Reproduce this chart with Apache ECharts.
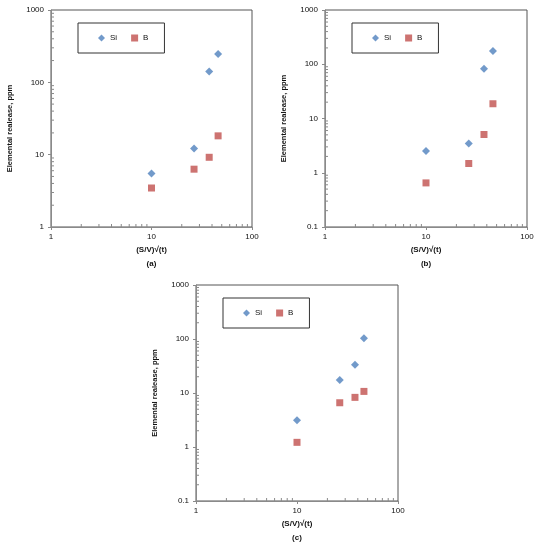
<!DOCTYPE html>
<html>
<head>
<meta charset="utf-8">
<script src="https://cdn.jsdelivr.net/npm/echarts@6/dist/echarts.min.js"></script>
<style>
  html, body { margin: 0; padding: 0; background: #fff; }
  #main { width: 541px; height: 550px; }
</style>
</head>
<body>
<div id="main"></div>
<script>
// x positions (S/V)√(t), same for every panel
var xVals = [10, 26.5, 37.5, 46];

// panel (a)
var siA = [5.5, 12.2, 141, 246];
var bA = [3.46, 6.3, 9.2, 18.2];
// panel (b)
var siB = [2.53, 3.45, 82.6, 175];
var bB = [0.65, 1.48, 5.07, 18.7];
// panel (c)
var siC = [3.12, 17.4, 33.5, 103];
var bC = [1.22, 6.6, 8.3, 10.7];

var panelLabels = ['(a)', '(b)', '(c)'];
var yMins = [1, 0.1, 0.1];
var yMax = 1000;
var xMin = 1, xMax = 100;

var FONT = '"Liberation Sans", Arial, sans-serif';
var AXIS_GREY = '#8a8a8a';
var SI_COLOR = '#4f81bd';
var B_COLOR = '#c0504d';

window.onload = function() {
	var chart = echarts.init(document.getElementById('main'));

	var grids = [
		{ left: 51, top: 10, width: 201, height: 217 },
		{ left: 325, top: 10, width: 202, height: 217 },
		{ left: 196, top: 285, width: 202, height: 216 }
	];

	function pairs(ys) {
		return xVals.map(function(x, i) { return [x, ys[i]]; });
	}

	// minor tick positions 2..9 in every decade
	function minorValues(lo, hi) {
		var out = [];
		for (var d = lo; d < hi; d *= 10) {
			for (var k = 2; k <= 9; k++) out.push(d * k);
		}
		return out;
	}

	// plain numbers, no thousands separator
	function plain(v) {
		return String(parseFloat(v.toPrecision(6)));
	}

	var xAxes = [], yAxes = [], series = [], legends = [];
	var siSets = [siA, siB, siC];
	var bSets = [bA, bB, bC];

	grids.forEach(function(g, i) {
		g.show = true;
		g.borderColor = '#555';
		g.borderWidth = 1;
		g.backgroundColor = '#fff';

		xAxes.push({
			gridIndex: i,
			type: 'log',
			logBase: 10,
			min: xMin,
			max: xMax,
			splitLine: { show: false },
			axisLine: { lineStyle: { color: AXIS_GREY } },
			axisTick: { inside: false, length: 3, lineStyle: { color: AXIS_GREY } },
			axisLabel: { fontSize: 8, color: '#111', margin: 6, fontFamily: FONT, formatter: plain },
			name: '(S/V)√(t)\n' + panelLabels[i],
			nameLocation: 'middle',
			nameGap: 16,
			nameTextStyle: {
				fontSize: 8, fontWeight: 'bold', color: '#111',
				fontFamily: FONT, lineHeight: 14, verticalAlign: 'top'
			}
		});

		yAxes.push({
			gridIndex: i,
			type: 'log',
			logBase: 10,
			min: yMins[i],
			max: yMax,
			splitLine: { show: false },
			axisLine: { lineStyle: { color: AXIS_GREY } },
			axisTick: { inside: false, length: 3, lineStyle: { color: AXIS_GREY } },
			axisLabel: { fontSize: 8, color: '#111', margin: 7, fontFamily: FONT, formatter: plain },
			name: 'Elemental realease, ppm',
			nameLocation: 'middle',
			nameGap: 37,
			nameTextStyle: {
				fontSize: 7.5, fontWeight: 'bold', color: '#111', fontFamily: FONT,
				padding: i === 0 ? [0, 20, 0, 0] : [0, 0, 0, 0]
			}
		});

		// minor ticks inside the plot, placed through the axes
		var ticks = [];
		minorValues(xMin, xMax).forEach(function(v) { ticks.push([v, yMins[i], 0]); });
		minorValues(yMins[i], yMax).forEach(function(v) { ticks.push([xMin, v, 1]); });
		series.push({
			type: 'custom',
			xAxisIndex: i,
			yAxisIndex: i,
			silent: true,
			clip: false,
			z: 1,
			data: ticks,
			renderItem: function(params, api) {
				var p = api.coord([api.value(0), api.value(1)]);
				var vertical = api.value(2) === 0;
				return {
					type: 'line',
					shape: vertical
						? { x1: p[0], y1: p[1], x2: p[0], y2: p[1] - 3 }
						: { x1: p[0], y1: p[1], x2: p[0] + 3, y2: p[1] },
					style: { stroke: AXIS_GREY, lineWidth: 1 }
				};
			}
		});

		series.push({
			name: 'Si',
			type: 'scatter',
			xAxisIndex: i,
			yAxisIndex: i,
			symbol: 'diamond',
			symbolSize: 8,
			itemStyle: { color: SI_COLOR },
			data: pairs(siSets[i]),
			z: 3
		});
		series.push({
			name: 'B',
			type: 'scatter',
			xAxisIndex: i,
			yAxisIndex: i,
			symbol: 'rect',
			symbolSize: 7,
			itemStyle: { color: B_COLOR },
			data: pairs(bSets[i]),
			z: 3
		});

		legends.push({
			left: g.left + 27,
			top: g.top + 13,
			orient: 'horizontal',
			selectedMode: false,
			data: [
				{ name: 'Si', icon: 'diamond' },
				{ name: 'B', icon: 'rect' }
			],
			itemWidth: 7,
			itemHeight: 7,
			itemGap: 14,
			padding: [11, 16, 11, 20],
			borderColor: '#333',
			borderWidth: 1,
			textStyle: { fontSize: 8, color: '#111', fontFamily: FONT }
		});
	});

	var option = {
		animation: false,
		backgroundColor: '#fff',
		textStyle: { fontFamily: FONT },
		grid: grids,
		xAxis: xAxes,
		yAxis: yAxes,
		legend: legends,
		series: series
	};
	chart.setOption(option);
};
</script>
</body>
</html>
